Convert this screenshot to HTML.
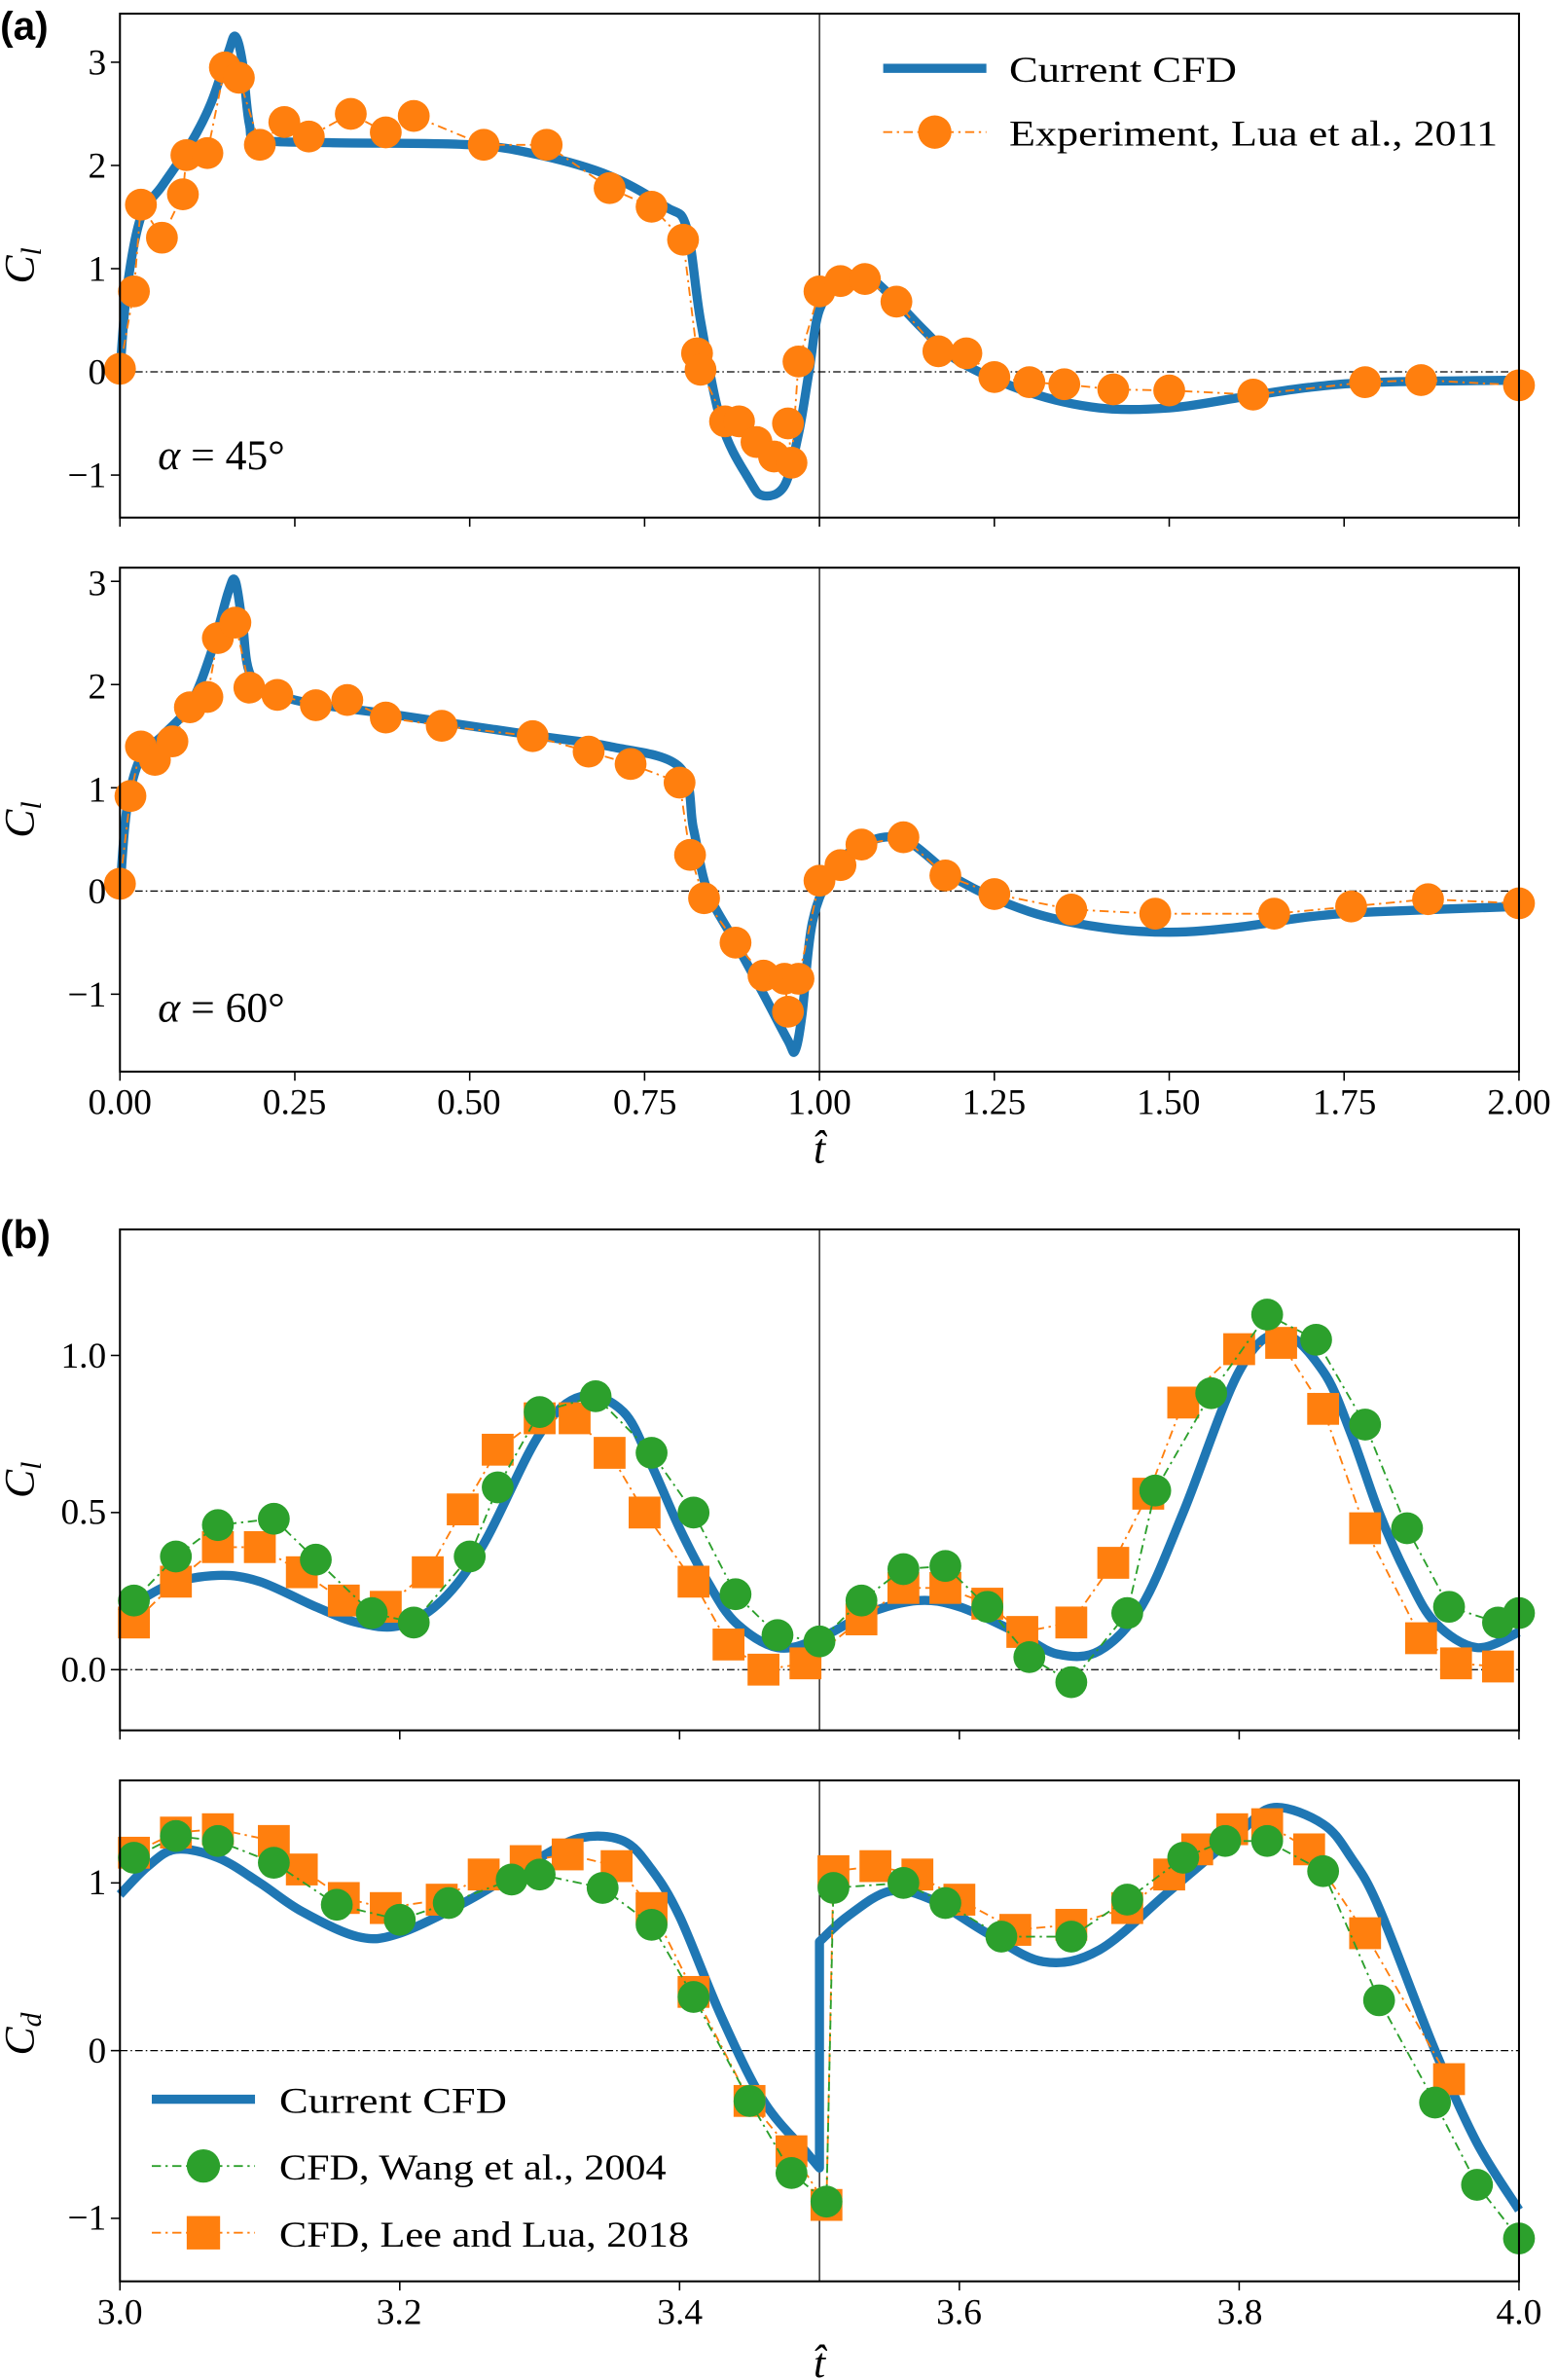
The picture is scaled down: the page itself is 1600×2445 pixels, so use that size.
<!DOCTYPE html>
<html><head><meta charset="utf-8"><style>
html,body{margin:0;padding:0;background:#fff}
svg{display:block}
.t{font-family:"Liberation Serif",serif;font-size:24px;fill:#000}
.lab{font-family:"Liberation Serif",serif;font-size:28px;font-style:italic;fill:#000}
</style></head><body>
<svg id="s" width="1600" height="2445" viewBox="0 0 1026 1568" xmlns="http://www.w3.org/2000/svg">
<rect width="1026" height="1568" fill="#fff"/>
<text x="0" y="26" style="font-family:'Liberation Sans',sans-serif;font-weight:bold;font-size:26px">(a)</text>
<text x="0" y="822" style="font-family:'Liberation Sans',sans-serif;font-weight:bold;font-size:26px">(b)</text>
<g id="plots"></g>
<g fill="none" stroke="#000" stroke-width="1.3">
<rect x="79" y="9" width="922" height="332"/>
<rect x="79" y="374" width="922" height="332"/>
<rect x="79" y="810" width="922" height="330"/>
<rect x="79" y="1173" width="922" height="330"/>
</g>
<g class="t" text-anchor="end">
<text x="70" y="49">3</text><text x="70" y="117">2</text><text x="70" y="185">1</text><text x="70" y="253">0</text><text x="70" y="321">−1</text>
<text x="70" y="392">3</text><text x="70" y="460">2</text><text x="70" y="528">1</text><text x="70" y="595">0</text><text x="70" y="663">−1</text>
<text x="70" y="901">1.0</text><text x="70" y="1004">0.5</text><text x="70" y="1108">0.0</text>
<text x="70" y="1248">1</text><text x="70" y="1359">0</text><text x="70" y="1469">−1</text>
</g>
<g class="t" text-anchor="middle">
<text x="79" y="734">0.00</text><text x="194" y="734">0.25</text><text x="309" y="734">0.50</text><text x="425" y="734">0.75</text><text x="540" y="734">1.00</text><text x="655" y="734">1.25</text><text x="770" y="734">1.50</text><text x="886" y="734">1.75</text><text x="1001" y="734">2.00</text>
<text x="79" y="1531">3.0</text><text x="263" y="1531">3.2</text><text x="448" y="1531">3.4</text><text x="632" y="1531">3.6</text><text x="817" y="1531">3.8</text><text x="1001" y="1531">4.0</text>
</g>
<text class="lab" x="540" y="766" text-anchor="middle">t̂</text>
<text class="lab" x="540" y="1566" text-anchor="middle">t̂</text>
<text class="lab" transform="translate(22,175) rotate(-90)" text-anchor="middle">C<tspan font-size="19" dy="5">l</tspan></text>
<text class="lab" transform="translate(22,540) rotate(-90)" text-anchor="middle">C<tspan font-size="19" dy="5">l</tspan></text>
<text class="lab" transform="translate(22,975) rotate(-90)" text-anchor="middle">C<tspan font-size="19" dy="5">l</tspan></text>
<text class="lab" transform="translate(22,1340) rotate(-90)" text-anchor="middle">C<tspan font-size="19" dy="5">d</tspan></text>
<text class="lab" x="104" y="309">α<tspan font-style="normal"> = 45°</tspan></text>
<text class="lab" x="104" y="673">α<tspan font-style="normal"> = 60°</tspan></text>
<line x1="582" y1="45" x2="650" y2="45" stroke="#1f77b4" stroke-width="6"/>
<text class="t" x="665" y="54" font-size="27" textLength="150" lengthAdjust="spacingAndGlyphs">Current CFD</text>
<line x1="582" y1="87" x2="650" y2="87" stroke="#ff7f0e" stroke-width="1.2" stroke-dasharray="6,3,1.5,3"/>
<circle cx="616" cy="87" r="11" fill="#ff7f0e"/>
<text class="t" x="665" y="96" font-size="27" textLength="322" lengthAdjust="spacingAndGlyphs">Experiment, Lua et al., 2011</text>
<line x1="100" y1="1383" x2="168" y2="1383" stroke="#1f77b4" stroke-width="6"/>
<text class="t" x="184" y="1392" font-size="27" textLength="150" lengthAdjust="spacingAndGlyphs">Current CFD</text>
<line x1="100" y1="1427" x2="168" y2="1427" stroke="#2ca02c" stroke-width="1.2" stroke-dasharray="6,3,1.5,3"/>
<circle cx="134" cy="1427" r="11" fill="#2ca02c"/>
<text class="t" x="184" y="1436" font-size="27" textLength="255" lengthAdjust="spacingAndGlyphs">CFD, Wang et al., 2004</text>
<line x1="100" y1="1471" x2="168" y2="1471" stroke="#ff7f0e" stroke-width="1.2" stroke-dasharray="6,3,1.5,3"/>
<rect x="123" y="1460" width="22" height="22" fill="#ff7f0e"/>
<text class="t" x="184" y="1480" font-size="27" textLength="270" lengthAdjust="spacingAndGlyphs">CFD, Lee and Lua, 2018</text>
</svg>
<script>
var NS="http://www.w3.org/2000/svg",G=document.getElementById("plots");
function el(n,a){var e=document.createElementNS(NS,n);for(var k in a)e.setAttribute(k,a[k]);G.appendChild(e);return e;}
function P(arr,fx,fy){return arr.map(function(p){return [fx(p[0]),fy(p[1])];});}
function smooth(p){var d="M"+p[0][0].toFixed(1)+","+p[0][1].toFixed(1);
 for(var i=0;i<p.length-1;i++){var p0=p[i-1]||p[i],p1=p[i],p2=p[i+1],p3=p[i+2]||p2;
  if(Math.abs(p1[0]-p2[0])<0.5){d+="L"+p2[0].toFixed(1)+","+p2[1].toFixed(1);continue;}
  if(Math.abs(p0[0]-p1[0])<0.5)p0=p1; if(Math.abs(p3[0]-p2[0])<0.5)p3=p2;
  var c1=[p1[0]+(p2[0]-p0[0])/6,p1[1]+(p2[1]-p0[1])/6],c2=[p2[0]-(p3[0]-p1[0])/6,p2[1]-(p3[1]-p1[1])/6];
  d+="C"+c1[0].toFixed(1)+","+c1[1].toFixed(1)+" "+c2[0].toFixed(1)+","+c2[1].toFixed(1)+" "+p2[0].toFixed(1)+","+p2[1].toFixed(1);}
 return d;}
function line(pts,c,w,dash,sm){var a={d:sm?smooth(pts):"M"+pts.map(function(p){return p[0].toFixed(1)+","+p[1].toFixed(1)}).join("L"),fill:"none",stroke:c,"stroke-width":w,"stroke-linejoin":"round"};if(dash)a["stroke-dasharray"]=dash;el("path",a);}
function circ(pts,c){line(pts,c,1.2,"6,3,1.5,3");pts.forEach(function(p){el("circle",{cx:p[0],cy:p[1],r:10.5,fill:c});});}
function sq(pts,c){line(pts,c,1.2,"6,3,1.5,3");pts.forEach(function(p){el("rect",{x:p[0]-10.5,y:p[1]-10.5,width:21,height:21,fill:c});});}
function ax(y0,y1,fx,xt,fy,yt){
 el("line",{x1:79,x2:1001,y1:fy(0),y2:fy(0),stroke:"#000","stroke-width":0.8,"stroke-dasharray":"5,2,1,2"});
 el("line",{x1:540,x2:540,y1:y0,y2:y1,stroke:"#000","stroke-width":0.8});
 xt.forEach(function(t){el("line",{x1:fx(t),x2:fx(t),y1:y1,y2:y1+6,stroke:"#000","stroke-width":1});});
 yt.forEach(function(t){el("line",{x1:73,x2:79,y1:fy(t),y2:fy(t),stroke:"#000","stroke-width":1});});
}
var BL="#1f77b4",OR="#ff7f0e",GR="#2ca02c";
var fxa=function(t){return 79+461*t;};
var xa=[0,0.25,0.5,0.75,1,1.25,1.5,1.75,2];
var fy1=function(v){return 245-68*v;};
ax(9,341,fxa,xa,fy1,[3,2,1,0,-1]);
line(P([[0,0],[0.01,0.8],[0.03,1.5],[0.06,1.8],[0.1,2.2],[0.13,2.6],[0.155,3.1],[0.165,3.25],[0.175,3.0],[0.185,2.4],[0.2,2.25],[0.3,2.22],[0.5,2.2],[0.6,2.1],[0.7,1.9],[0.78,1.6],[0.81,1.4],[0.83,0.5],[0.86,-0.5],[0.9,-1.05],[0.92,-1.2],[0.95,-1.1],[0.97,-0.6],[0.985,0],[1.0,0.6],[1.03,0.85],[1.07,0.9],[1.1,0.75],[1.15,0.4],[1.2,0.1],[1.3,-0.2],[1.4,-0.35],[1.5,-0.35],[1.6,-0.25],[1.7,-0.15],[1.8,-0.1],[2.0,-0.08]],fxa,fy1),BL,6,null,1);
circ(P([[0,0.03],[0.02,0.78],[0.03,1.62],[0.06,1.3],[0.09,1.72],[0.095,2.1],[0.125,2.12],[0.15,2.95],[0.17,2.85],[0.2,2.2],[0.235,2.42],[0.27,2.28],[0.33,2.5],[0.38,2.32],[0.42,2.48],[0.52,2.2],[0.61,2.2],[0.7,1.78],[0.76,1.6],[0.805,1.28],[0.825,0.18],[0.83,0.02],[0.865,-0.48],[0.885,-0.48],[0.91,-0.68],[0.935,-0.82],[0.955,-0.5],[0.96,-0.88],[0.97,0.1],[1.0,0.78],[1.03,0.88],[1.065,0.9],[1.11,0.68],[1.17,0.2],[1.21,0.18],[1.25,-0.05],[1.3,-0.1],[1.35,-0.12],[1.42,-0.17],[1.5,-0.18],[1.62,-0.22],[1.78,-0.1],[1.86,-0.08],[2.0,-0.13]],fxa,fy1),OR);
var fy2=function(v){return 587-68*v;};
ax(374,706,fxa,xa,fy2,[3,2,1,0,-1]);
line(P([[0,0],[0.01,0.8],[0.03,1.3],[0.06,1.5],[0.1,1.8],[0.13,2.3],[0.155,2.9],[0.165,3.0],[0.175,2.6],[0.19,2.05],[0.25,1.85],[0.4,1.7],[0.6,1.5],[0.7,1.4],[0.8,1.2],[0.82,0.6],[0.84,0],[0.88,-0.5],[0.92,-1.0],[0.955,-1.45],[0.965,-1.55],[0.975,-1.2],[0.99,-0.3],[1.02,0.2],[1.06,0.45],[1.12,0.5],[1.2,0.1],[1.3,-0.2],[1.4,-0.35],[1.5,-0.4],[1.6,-0.35],[1.7,-0.25],[1.8,-0.2],[2.0,-0.15]],fxa,fy2),BL,6,null,1);
circ(P([[0,0.07],[0.015,0.92],[0.03,1.4],[0.05,1.27],[0.075,1.45],[0.1,1.78],[0.125,1.88],[0.14,2.45],[0.165,2.6],[0.185,1.97],[0.225,1.9],[0.28,1.8],[0.325,1.85],[0.38,1.68],[0.46,1.6],[0.59,1.5],[0.67,1.35],[0.73,1.23],[0.8,1.05],[0.815,0.35],[0.835,-0.07],[0.88,-0.5],[0.92,-0.82],[0.95,-0.85],[0.955,-1.17],[0.97,-0.85],[1.0,0.1],[1.03,0.25],[1.06,0.45],[1.12,0.52],[1.18,0.15],[1.25,-0.03],[1.36,-0.18],[1.48,-0.22],[1.65,-0.22],[1.76,-0.15],[1.87,-0.08],[2.0,-0.12]],fxa,fy2),OR);
var fxb=function(t){return 79+922*(t-3);};
var xb=[3,3.2,3.4,3.6,3.8,4];
var fy3=function(v){return 1100-207*v;};
ax(810,1140,fxb,xb,fy3,[1,0.5,0]);
line(P([[3,0.18],[3.035,0.27],[3.07,0.3],[3.1,0.28],[3.14,0.2],[3.17,0.15],[3.2,0.14],[3.23,0.22],[3.26,0.4],[3.3,0.75],[3.33,0.87],[3.36,0.82],[3.38,0.65],[3.4,0.45],[3.42,0.28],[3.44,0.15],[3.47,0.07],[3.5,0.1],[3.535,0.18],[3.57,0.22],[3.6,0.2],[3.64,0.12],[3.67,0.05],[3.7,0.06],[3.73,0.2],[3.76,0.5],[3.8,0.95],[3.83,1.07],[3.86,0.95],[3.88,0.75],[3.9,0.5],[3.92,0.3],[3.94,0.15],[3.97,0.07],[4,0.12]],fxb,fy3),BL,6,null,1);
sq(P([[3.01,0.15],[3.04,0.28],[3.07,0.39],[3.1,0.39],[3.13,0.31],[3.16,0.22],[3.19,0.2],[3.22,0.31],[3.245,0.51],[3.27,0.7],[3.3,0.8],[3.325,0.8],[3.35,0.69],[3.375,0.5],[3.41,0.28],[3.435,0.08],[3.46,0],[3.49,0.02],[3.53,0.16],[3.56,0.26],[3.59,0.26],[3.62,0.21],[3.645,0.12],[3.68,0.15],[3.71,0.34],[3.735,0.56],[3.76,0.85],[3.8,1.02],[3.83,1.04],[3.86,0.83],[3.89,0.45],[3.93,0.1],[3.955,0.02],[3.985,0.01]],fxb,fy3),OR);
circ(P([[3.01,0.22],[3.04,0.36],[3.07,0.46],[3.11,0.48],[3.14,0.35],[3.18,0.18],[3.21,0.15],[3.25,0.36],[3.27,0.58],[3.3,0.82],[3.34,0.87],[3.38,0.69],[3.41,0.5],[3.44,0.24],[3.47,0.11],[3.5,0.09],[3.53,0.22],[3.56,0.32],[3.59,0.33],[3.62,0.2],[3.65,0.04],[3.68,-0.04],[3.72,0.18],[3.74,0.57],[3.78,0.88],[3.82,1.13],[3.855,1.05],[3.89,0.78],[3.92,0.45],[3.95,0.2],[3.985,0.15],[4.0,0.18]],fxb,fy3),GR);
var fy4=function(v){return 1351-110.5*v;};
ax(1173,1503,fxb,xb,fy4,[1,0,-1]);
line(P([[3,0.93],[3.02,1.1],[3.04,1.2],[3.07,1.15],[3.1,1.0],[3.13,0.83],[3.17,0.68],[3.2,0.7],[3.25,0.9],[3.3,1.15],[3.33,1.27],[3.36,1.25],[3.38,1.08],[3.4,0.8],[3.43,0.2],[3.46,-0.3],[3.49,-0.6],[3.5,-0.7],[3.5,0.65],[3.52,0.8],[3.55,0.95],[3.58,0.9],[3.62,0.7],[3.66,0.53],[3.7,0.6],[3.75,0.95],[3.8,1.3],[3.825,1.45],[3.86,1.35],[3.88,1.15],[3.9,0.85],[3.94,0],[3.97,-0.55],[4,-0.95]],fxb,fy4),BL,6,null,1);
sq(P([[3.01,1.18],[3.04,1.3],[3.07,1.32],[3.11,1.25],[3.13,1.08],[3.16,0.91],[3.19,0.85],[3.23,0.9],[3.26,1.05],[3.29,1.13],[3.32,1.17],[3.355,1.1],[3.38,0.85],[3.41,0.35],[3.45,-0.3],[3.48,-0.6],[3.505,-0.92],[3.51,1.07],[3.54,1.1],[3.57,1.05],[3.6,0.9],[3.64,0.72],[3.68,0.75],[3.72,0.85],[3.75,1.05],[3.77,1.2],[3.795,1.32],[3.82,1.35],[3.85,1.2],[3.89,0.7],[3.95,-0.17]],fxb,fy4),OR);
circ(P([[3.01,1.15],[3.04,1.28],[3.07,1.25],[3.11,1.12],[3.155,0.87],[3.2,0.78],[3.235,0.88],[3.28,1.02],[3.3,1.05],[3.345,0.97],[3.38,0.75],[3.41,0.32],[3.45,-0.3],[3.48,-0.73],[3.505,-0.9],[3.51,0.97],[3.56,1.0],[3.59,0.88],[3.63,0.68],[3.68,0.68],[3.72,0.9],[3.76,1.15],[3.79,1.25],[3.82,1.25],[3.86,1.07],[3.9,0.3],[3.94,-0.31],[3.97,-0.8],[4.0,-1.12]],fxb,fy4),GR);
</script>
</body></html>
